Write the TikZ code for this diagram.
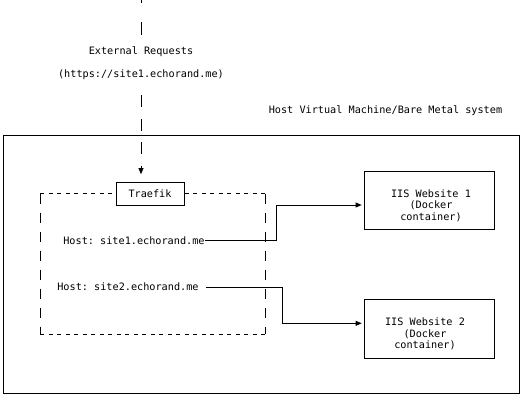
\documentclass[tikz,border=0pt]{standalone}
\usepackage{fontspec}
\setmonofont{DejaVu Sans Mono}
\usetikzlibrary{arrows.meta,positioning}

\begin{document}
\begin{tikzpicture}[x=1pt,y=-1pt,>={Triangle[length=6pt,width=5pt]},line width=0.7pt,
    font=\ttfamily\fontsize{10.2}{11.4}\selectfont,
    box node/.style={draw,rectangle,inner sep=0pt}, text node/.style={inner sep=0pt,align=center},
    request/.style={dash pattern=on 12pt off 11.5pt}, link/.style={->,shorten >=2pt}]

  \useasboundingbox (0,0) rectangle (532,400);

  \coordinate (top) at (141,0);
  \node[text node] (ext) at (141,52) {External Requests};
  \node[text node] (url) [below of=ext,node distance=23pt] {(https://site1.echorand.me)};
  \node[text node] (vm) at (385.5,111) {Host Virtual Machine/Bare Metal system};

  \node[box node,minimum width=515.5pt,minimum height=258pt] (host) at (261.25,264) {};
  \node[minimum width=224.3pt,minimum height=140pt] (rules) at (152.85,264) {};
  \draw[dash pattern=on 4pt off 4.5pt] (rules.north west) -- (rules.north east)
        (rules.south west) -- (rules.south east);
  \draw[dash pattern=on 10pt off 9pt] (rules.north west) -- (rules.south west)
        (rules.north east) -- (rules.south east);

  \node[box node,fill=white,minimum width=68pt,minimum height=23pt] (traefik) at (150,193.5) {Traefik};
  \node[text node,anchor=west] (host1) at (63,240.7) {Host: site1.echorand.me};
  \node[text node,anchor=west] (host2) at (57,287) {Host: site2.echorand.me};

  \node[box node,minimum width=130pt,minimum height=58pt] (web1) at (429,200) {};
  \node[text node] (web1 label) at (431,205.5) {IIS Website 1\\(Docker\\ container)};
  \node[box node,minimum width=130pt,minimum height=59pt] (web2) [below of=web1,node distance=128.8pt] {};
  \node[text node] (web2 label) at (425,334) {IIS Website 2\\(Docker\\container)};

  \draw[dash pattern=on 13pt off 19pt,dash phase=10pt,shorten >=12pt] (top) -- (ext);
  \draw[request,->,shorten <=15pt,shorten >=7.5pt] (url) -- (url |- traefik.north);
  \draw[link] (host1.east) -- ++(71.7,0) |- ([yshift=-5pt]web1.west);
  \draw[link] ([xshift=7pt]host2.east) -- ++(76.6,0) |- ([yshift=5.5pt]web2.west);

\end{tikzpicture}
\end{document}
